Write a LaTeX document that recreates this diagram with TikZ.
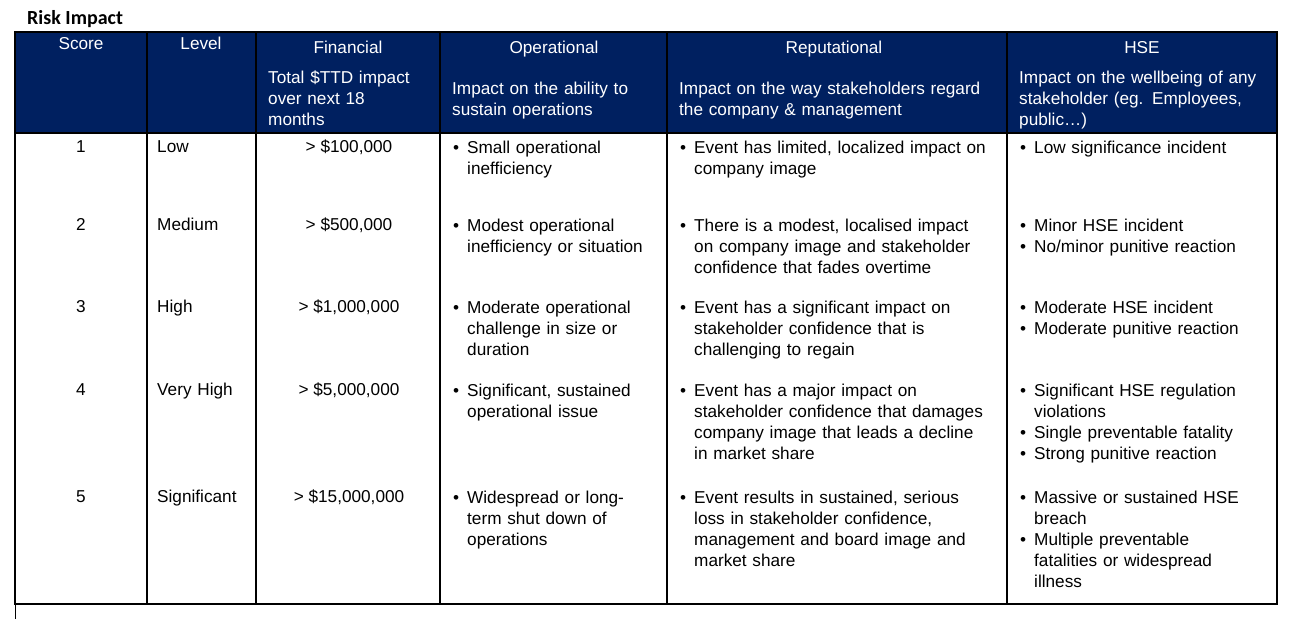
\documentclass[tikz,border=0pt]{standalone}
\usepackage{fontspec}
\setmainfont{Liberation Sans}
\newfontfamily\titlefont{Carlito}
\definecolor{navy}{HTML}{002060}
\newcommand{\bl}[1]{\hangindent=14pt\hangafter=1\noindent\makebox[14pt][l]{\textbullet}#1\par}
\tikzset{
  cell/.style={anchor=north west, inner sep=0pt, text width=340pt, font=\fontsize{17.2}{21}\selectfont},
  head/.style={anchor=north, inner sep=0pt, text=white, font=\fontsize{17.2}{21}\selectfont},
  sub/.style={cell, text=white},
  num/.style={anchor=north, inner sep=0pt, font=\fontsize{17.2}{21}\selectfont}
}
\begin{document}
\begin{tikzpicture}[x=1pt, y=-1pt]
  \useasboundingbox (0,0) rectangle (1301,619);
  \node[anchor=base west, inner sep=0pt, font=\titlefont\bfseries\fontsize{20}{24}\selectfont] (title) at (27,24) {Risk Impact};
  % header band
  \fill[navy] (15,32) rectangle (1277,133);
  \draw[line width=1.2pt] (15,32) rectangle (1277,604);
  \draw[line width=1.2pt] (15,133) -- (1277,133);
  \foreach \x in {147,256,440,667,1007}
    \draw[line width=1.2pt] (\x,32) -- (\x,604);
  \draw (15,604) -- (15,619);
  % header titles
  \node[head] (hscore) at (81,35) {\strut Score};
  \node[head] (hlevel) at (201,35) {\strut Level};
  \node[head] (hfin) at (348,39) {\strut Financial};
  \node[head] (hops) at (554,39) {\strut Operational};
  \node[head] (hrep) at (834,39) {\strut Reputational};
  \node[head] (hhse) at (1142,39) {\strut HSE};
  \node[sub] (sfin) at (268,69) {\strut Total \$TTD impact\newline over next 18\newline months};
  \node[sub] (sops) at (452,80) {\strut Impact on the ability to\newline sustain operations};
  \node[sub] (srep) at (679,80) {\strut Impact on the way stakeholders regard\newline the company \& management};
  \node[sub] (shse) at (1019,69) {\strut Impact on the wellbeing of any\newline stakeholder (eg. Employees,\newline public\dots)};
  % rows
  \foreach \n/\lev/\amt/\y in {1/Low/{> \$100,000}/138, 2/Medium/{> \$500,000}/216,
      3/High/{> \$1,000,000}/298, 4/Very High/{> \$5,000,000}/381, 5/Significant/{> \$15,000,000}/488} {
    \node[num] (score\n) at (81,\y) {\strut\n};
    \node[cell] (level\n) at (157,\y) {\strut\lev};
    \node[num] (fin\n) at (349,\y) {\strut\amt};
  }
  \node[cell] (ops1) at (453,139) {\strut\bl{Small operational\newline inefficiency}};
  \node[cell] (ops2) at (453,217) {\strut\bl{Modest operational\newline inefficiency or situation}};
  \node[cell] (ops3) at (453,299) {\strut\bl{Moderate operational\newline challenge in size or\newline duration}};
  \node[cell] (ops4) at (453,382) {\strut\bl{Significant, sustained\newline operational issue}};
  \node[cell] (ops5) at (453,489) {\strut\bl{Widespread or long-\newline term shut down of\newline operations}};
  \node[cell] (rep1) at (680,139) {\strut\bl{Event has limited, localized impact on\newline company image}};
  \node[cell] (rep2) at (680,217) {\strut\bl{There is a modest, localised impact\newline on company image and stakeholder\newline confidence that fades overtime}};
  \node[cell] (rep3) at (680,299) {\strut\bl{Event has a significant impact on\newline stakeholder confidence that is\newline challenging to regain}};
  \node[cell] (rep4) at (680,382) {\strut\bl{Event has a major impact on\newline stakeholder confidence that damages\newline company image that leads a decline\newline in market share}};
  \node[cell] (rep5) at (680,489) {\strut\bl{Event results in sustained, serious\newline loss in stakeholder confidence,\newline management and board image and\newline market share}};
  \node[cell] (hse1) at (1020,139) {\strut\bl{Low significance incident}};
  \node[cell] (hse2) at (1020,217) {\strut\bl{Minor HSE incident}\bl{No/minor punitive reaction}};
  \node[cell] (hse3) at (1020,299) {\strut\bl{Moderate HSE incident}\bl{Moderate punitive reaction}};
  \node[cell] (hse4) at (1020,382) {\strut\bl{Significant HSE regulation\newline violations}\bl{Single preventable fatality}\bl{Strong punitive reaction}};
  \node[cell] (hse5) at (1020,489) {\strut\bl{Massive or sustained HSE\newline breach}\bl{Multiple preventable\newline fatalities or widespread\newline illness}};
\end{tikzpicture}
\end{document}
